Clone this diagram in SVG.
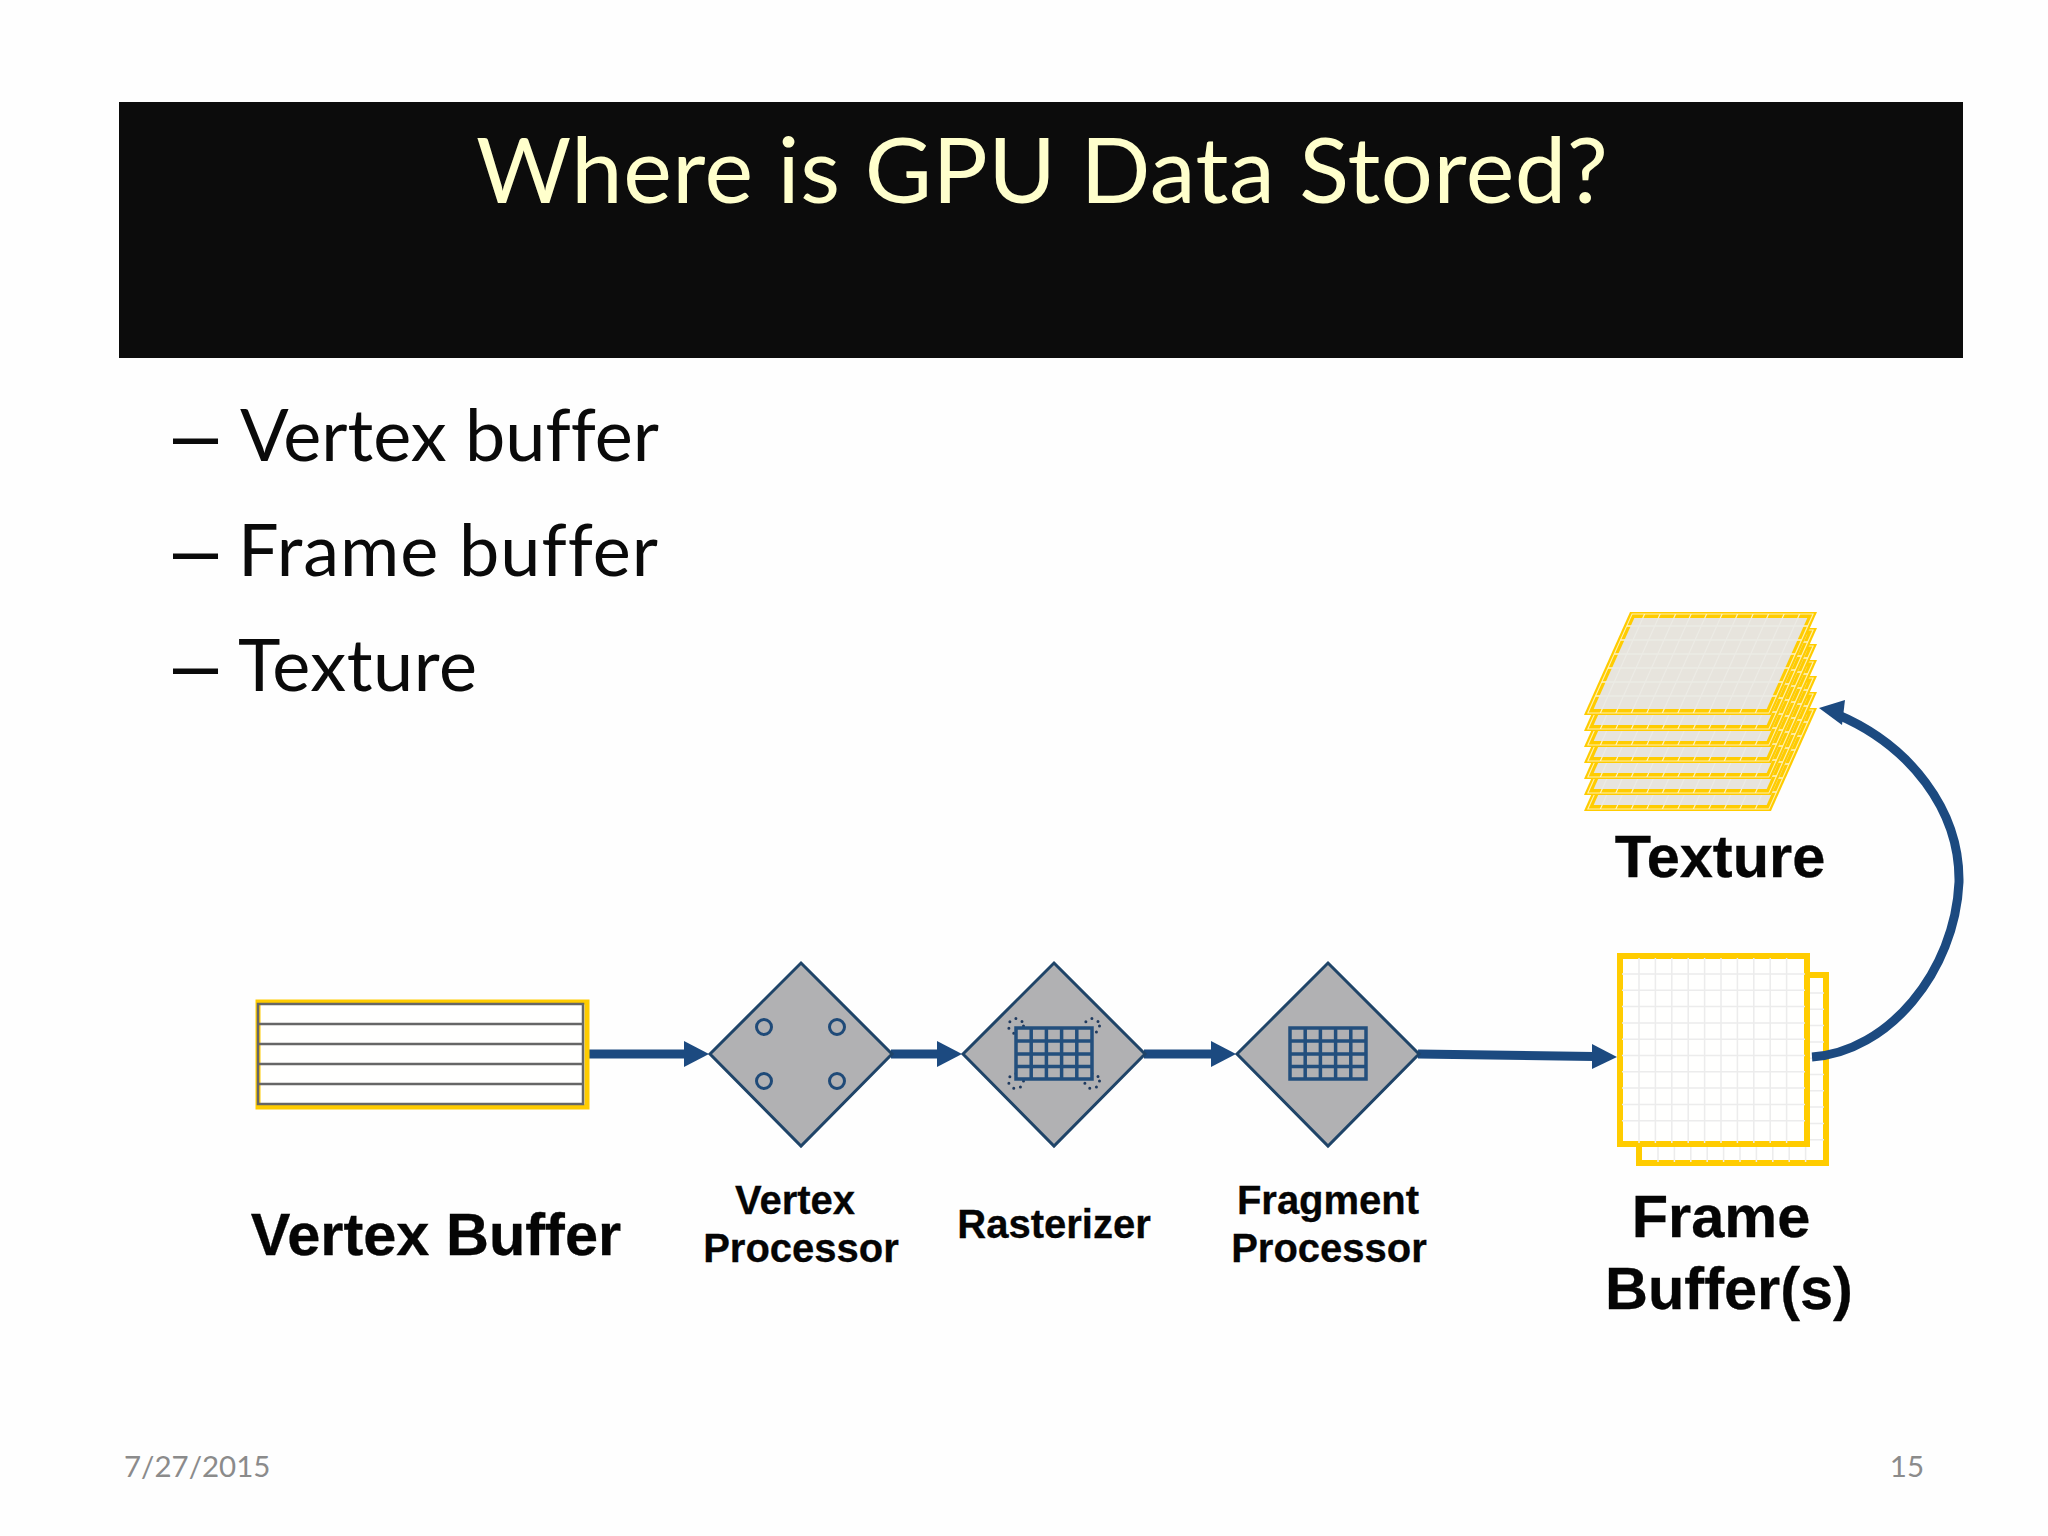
<svg xmlns="http://www.w3.org/2000/svg" xmlns:xlink="http://www.w3.org/1999/xlink" width="2048" height="1536" viewBox="0 0 2048 1536">
<style>
.lato{font-family:"Lato","Liberation Sans",sans-serif;font-variant-ligatures:none}
.bold{font-family:"Liberation Sans",Arial,sans-serif;font-weight:700;fill:#050505;text-anchor:middle;stroke:#050505;stroke-width:.3}
.big{font-size:59.500px}.small{font-size:40px}
.bullet{font-size:72px;fill:#0a0a0a}
.dash{font-family:"Liberation Sans",Arial,sans-serif;font-size:81px;fill:#0a0a0a}
.foot{font-size:29.500px;fill:#8b8b8b}
.dia{fill:#b1b1b3;stroke:#1f4468;stroke-width:3}
.grid{fill:none;stroke:#234f7d;stroke-width:3.500}
.fg{stroke:#ececec;stroke-width:1.500;fill:none}
.y{fill:#fffffe;stroke:#ffcc00;stroke-width:6}
.line{stroke:#666;stroke-width:2.500;fill:none}
.conn{fill:none;stroke:#1c4a80;stroke-width:9}
.head{fill:#1c4a80}
</style>
<defs>
<g id="tgrid">
<path class="grid" d="M0,0H76V51H0ZM15.200,0V51M30.400,0V51M45.600,0V51M60.800,0V51M0,13H76M0,26H76M0,38.500H76"/>
</g>
<g id="layer" transform="translate(1630,612) skewX(-24.070)">
<rect width="187" height="103" fill="#ffcc00"/>
<rect x="3" y="2" width="181" height="99" fill="none" stroke="#fff0b0" stroke-width="1.200"/>
<path fill="none" stroke="#fff3c4" stroke-width="1.300" d="M15.500,2V101M31,2V101M46.500,2V101M62,2V101M77.500,2V101M93,2V101M108.500,2V101M124,2V101M139.500,2V101M155,2V101M170.500,2V101M3,14H184M3,28H184M3,42H184M3,56H184M3,70H184M3,84H184"/>
<rect x="7" y="6" width="173" height="91" fill="#e7e4dd"/>
<path fill="none" stroke="#ecebe5" stroke-width="1.300" d="M15.500,6V97M31,6V97M46.500,6V97M62,6V97M77.500,6V97M93,6V97M108.500,6V97M124,6V97M139.500,6V97M155,6V97M170.500,6V97M7,14H180M7,28H180M7,42H180M7,56H180M7,70H180M7,84H180"/>
</g>
<path id="fbgrid" class="fg" d="M1639,958V1143M1655.400,958V1143M1671.800,958V1143M1688.200,958V1143M1704.600,958V1143M1721,958V1143M1737.400,958V1143M1753.800,958V1143M1770.200,958V1143M1786.600,958V1143M1622,974H1805M1622,990.300H1805M1622,1006.600H1805M1622,1022.900H1805M1622,1039.200H1805M1622,1055.500H1805M1622,1071.800H1805M1622,1088.100H1805M1622,1104.400H1805M1622,1120.700H1805"/>
</defs>
<rect width="2048" height="1536" fill="#fefefe"/>
<g id="title">
<rect x="119" y="102" width="1844" height="256" fill="#0c0c0c"/>
<text class="lato" x="476" y="203" font-size="92" fill="#ffffcc" textLength="1132">Where is GPU Data Stored?</text>
</g>
<g id="bullets" class="lato">
<text class="dash" x="173" y="462">–</text><text class="bullet" x="240" y="461" textLength="419">Vertex buffer</text>
<text class="dash" x="173" y="577">–</text><text class="bullet" x="238" y="576" textLength="420">Frame buffer</text>
<text class="dash" x="173" y="692">–</text><text class="bullet" x="238" y="691" textLength="239">Texture</text>
</g>
<g id="connectors">
<path class="conn" d="M589,1054H686"/><polygon class="head" points="684,1041 709,1054 684,1067"/>
<path class="conn" d="M891,1054H939"/><polygon class="head" points="937,1041 962,1054 937,1067"/>
<path class="conn" d="M1144,1054H1213"/><polygon class="head" points="1211,1041 1236,1054 1211,1067"/>
<path class="conn" d="M1418,1054L1594,1056.500"/><polygon class="head" points="1592,1044 1617,1057 1592,1069"/>
</g>
<g id="vertex-buffer">
<rect x="258" y="1002" width="329" height="105" fill="#fffffe" stroke="#ffcc00" stroke-width="5"/>
<rect x="258" y="1004" width="325" height="100" class="line"/>
<path class="line" d="M258,1024H583M258,1044H583M258,1064H583M258,1084H583"/>
<text class="bold big" x="436" y="1255">Vertex Buffer</text>
</g>
<g id="vertex-processor">
<polygon class="dia" points="801,963 892,1054 801,1146 710,1054"/>
<g fill="none" stroke="#1f4a78" stroke-width="3"><circle cx="764" cy="1027" r="7.500"/><circle cx="837" cy="1027" r="7.500"/><circle cx="764" cy="1081" r="7.500"/><circle cx="837" cy="1081" r="7.500"/></g>
<text class="bold small" x="795" y="1214">Vertex</text><text class="bold small" x="801" y="1262">Processor</text>
</g>
<g id="rasterizer">
<polygon class="dia" points="1054,963 1145,1054 1054,1146 963,1054"/>
<g fill="none" stroke="#1f3a5f" stroke-width="3" stroke-linecap="round" stroke-dasharray="0 7">
<circle cx="1016" cy="1026" r="7.500"/><circle cx="1092" cy="1026" r="7.500"/><circle cx="1016" cy="1081" r="7.500"/><circle cx="1092" cy="1081" r="7.500"/></g>
<rect x="1016" y="1028" width="76" height="51" fill="#b1b1b3"/>
<use xlink:href="#tgrid" x="1016" y="1028"/>
<text class="bold small" x="1054" y="1238">Rasterizer</text>
</g>
<g id="fragment-processor">
<polygon class="dia" points="1328,963 1419,1054 1328,1146 1237,1054"/>
<use xlink:href="#tgrid" x="1290" y="1028"/>
<text class="bold small" x="1328" y="1214">Fragment</text><text class="bold small" x="1329" y="1262">Processor</text>
</g>
<g id="frame-buffer">
<rect class="y" x="1639" y="975" width="187" height="188"/>
<use xlink:href="#fbgrid" x="19" y="19"/>
<rect class="y" x="1620" y="956" width="187" height="188"/>
<use xlink:href="#fbgrid"/>
<text class="bold big" x="1721" y="1237">Frame</text><text class="bold big" x="1729" y="1309">Buffer(s)</text>
</g>
<g id="texture">
<use xlink:href="#layer" y="96"/><use xlink:href="#layer" y="80"/><use xlink:href="#layer" y="64"/><use xlink:href="#layer" y="48"/><use xlink:href="#layer" y="32"/><use xlink:href="#layer" y="16"/><use xlink:href="#layer"/>
<text class="bold big" x="1720" y="877">Texture</text>
</g>
<g id="feedback-connector">
<path class="conn" d="M1812,1057C1888,1052 1955,972 1959,882C1960,810 1910,745 1836,714"/>
<polygon class="head" points="1819,708 1845,700 1842,725"/>
</g>
<g id="footer" class="lato">
<text class="foot" x="124" y="1477">7/27/2015</text>
<text class="foot" x="1924" y="1477" text-anchor="end">15</text>
</g>
</svg>
